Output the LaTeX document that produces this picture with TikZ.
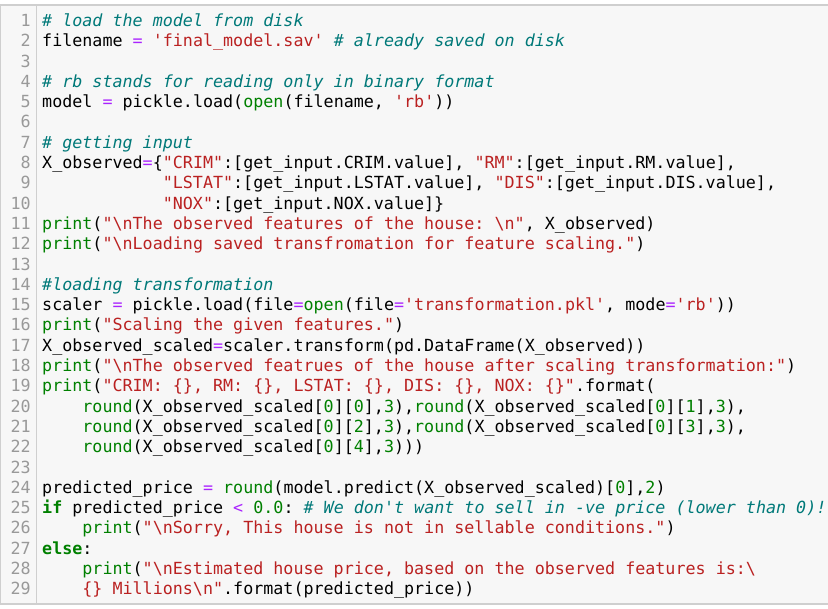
\documentclass[tikz,border=0pt]{standalone}
\usepackage{fontspec}
\setmonofont{DejaVu Sans Mono}
\definecolor{cmtc}{HTML}{007979}
\definecolor{strc}{HTML}{BA2121}
\definecolor{kwc}{HTML}{008000}
\definecolor{opc}{HTML}{AA22FF}
\definecolor{bgc}{HTML}{F7F7F7}
\definecolor{brc}{HTML}{CFCFCF}
\definecolor{lnc}{HTML}{999999}
\newcommand\cmt[1]{\textcolor{cmtc}{\itshape #1}}
\newcommand\str[1]{\textcolor{strc}{#1}}
\newcommand\kw[1]{\textcolor{kwc}{\bfseries #1}}
\newcommand\bi[1]{\textcolor{kwc}{#1}}
\newcommand\op[1]{\textcolor{opc}{#1}}
\newcommand\num[1]{\textcolor{kwc}{#1}}
\newcommand\bs{\textbackslash}
\tikzset{code/.style={anchor=base west,inner sep=0pt,font=\fontsize{16.7}{18}\ttfamily},
lnum/.style={anchor=base east,inner sep=0pt,text=lnc,font=\fontsize{16.7}{18}\ttfamily}}
\begin{document}
\begin{tikzpicture}[x=1pt,y=-1pt]
\useasboundingbox (0,0) rectangle (828,609);
\fill[bgc] (0,5) rectangle (828,604);
\draw[brc,line width=1.2pt] (0,5) -- (828,5);
\draw[brc,line width=1.2pt] (0,604) -- (828,604);
\draw[brc,line width=1.2pt] (0.6,5) -- (0.6,604);
\draw[brc,line width=0.8pt] (36,5) -- (36,604);
\foreach \n in {1,...,29}{\node[lnum] (ln\n) at (31,{26.5+(\n-1)*20.3}) {\n};}
\def\L#1#2#3{\node[code] (c#1) at ({42+#2*10.05},{26.5+(#1-1)*20.3}) {#3};}
\L{1}{0}{\cmt{\# load the model from disk}}
\L{2}{0}{filename \op{=} \str{'final\_model.sav'} \cmt{\# already saved on disk}}
\L{4}{0}{\cmt{\# rb stands for reading only in binary format}}
\L{5}{0}{model \op{=} pickle.load(\bi{open}(filename, \str{'rb'}))}
\L{7}{0}{\cmt{\# getting input}}
\L{8}{0}{X\_observed\op{=}\{\str{"CRIM"}:[get\_input.CRIM.value], \str{"RM"}:[get\_input.RM.value],}
\L{9}{12}{\str{"LSTAT"}:[get\_input.LSTAT.value], \str{"DIS"}:[get\_input.DIS.value],}
\L{10}{12}{\str{"NOX"}:[get\_input.NOX.value]\}}
\L{11}{0}{\bi{print}(\str{"\bs nThe observed features of the house: \bs n"}, X\_observed)}
\L{12}{0}{\bi{print}(\str{"\bs nLoading saved transfromation for feature scaling."})}
\L{14}{0}{\cmt{\#loading transformation}}
\L{15}{0}{scaler \op{=} pickle.load(file\op{=}\bi{open}(file\op{=}\str{'transformation.pkl'}, mode\op{=}\str{'rb'}))}
\L{16}{0}{\bi{print}(\str{"Scaling the given features."})}
\L{17}{0}{X\_observed\_scaled\op{=}scaler.transform(pd.DataFrame(X\_observed))}
\L{18}{0}{\bi{print}(\str{"\bs nThe observed featrues of the house after scaling transformation:"})}
\L{19}{0}{\bi{print}(\str{"CRIM: \{\}, RM: \{\}, LSTAT: \{\}, DIS: \{\}, NOX: \{\}"}.format(}
\L{20}{4}{\bi{round}(X\_observed\_scaled[\num{0}][\num{0}],\num{3}),\bi{round}(X\_observed\_scaled[\num{0}][\num{1}],\num{3}),}
\L{21}{4}{\bi{round}(X\_observed\_scaled[\num{0}][\num{2}],\num{3}),\bi{round}(X\_observed\_scaled[\num{0}][\num{3}],\num{3}),}
\L{22}{4}{\bi{round}(X\_observed\_scaled[\num{0}][\num{4}],\num{3})))}
\L{24}{0}{predicted\_price \op{=} \bi{round}(model.predict(X\_observed\_scaled)[\num{0}],\num{2})}
\L{25}{0}{\kw{if} predicted\_price \op{<} \num{0.0}: \cmt{\# We don't want to sell in -ve price (lower than 0)!}}
\L{26}{4}{\bi{print}(\str{"\bs nSorry, This house is not in sellable conditions."})}
\L{27}{0}{\kw{else}:}
\L{28}{4}{\bi{print}(\str{"\bs nEstimated house price, based on the observed features is:\bs}}
\L{29}{4}{\str{\{\} Millions\bs n"}.format(predicted\_price))}
\end{tikzpicture}
\end{document}
